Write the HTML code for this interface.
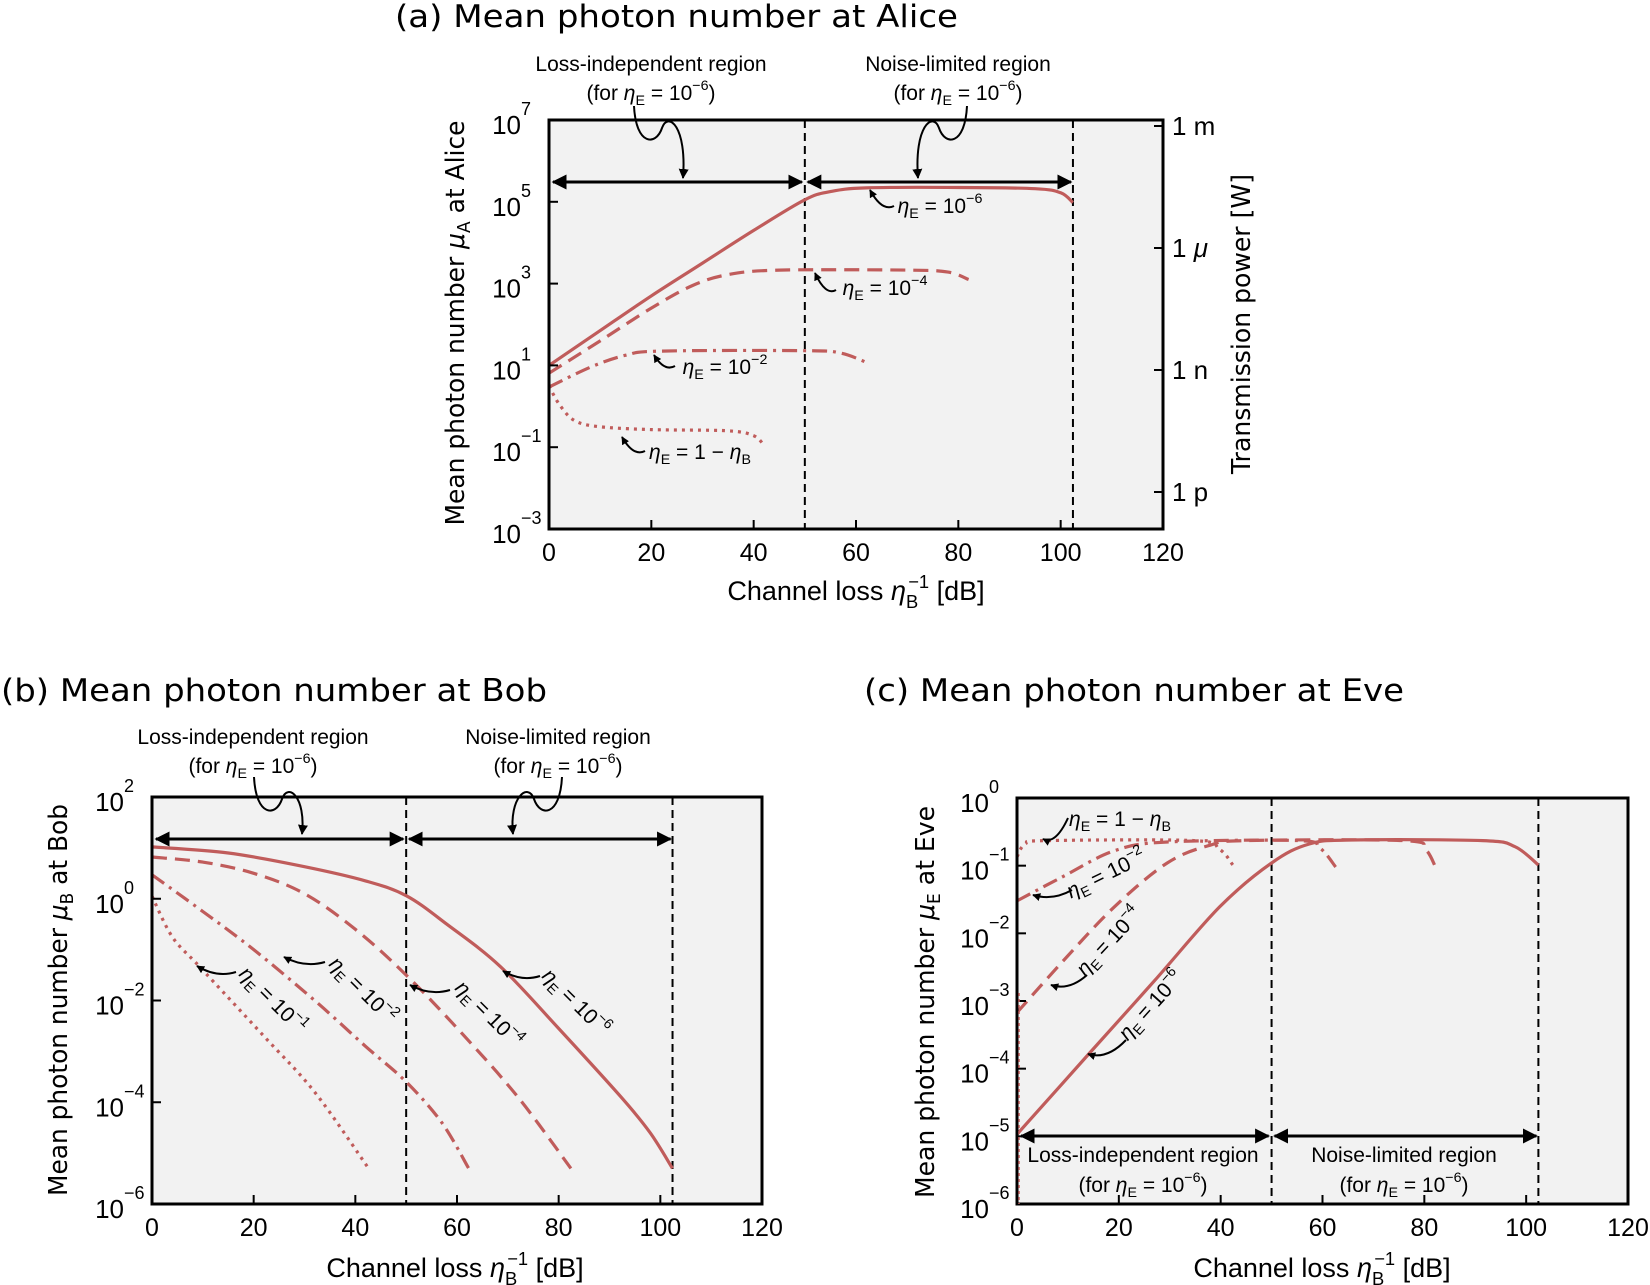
<!DOCTYPE html>
<html><head><meta charset="utf-8"><style>
html,body{margin:0;padding:0;background:#fff;}
svg{display:block;font-family:"Liberation Sans",sans-serif;}
.t{font-family:"DejaVu Sans","Liberation Sans",sans-serif;}
</style></head><body>
<svg id="s" width="1650" height="1285" viewBox="0 0 1650 1285" xmlns="http://www.w3.org/2000/svg">
<defs>
<marker id="ah" viewBox="0 0 10 10" refX="9" refY="5" markerWidth="5" markerHeight="5" orient="auto-start-reverse"><path d="M0,0 L10,5 L0,10 z" fill="#000"/></marker>
<marker id="bh" viewBox="0 0 10 10" refX="9" refY="5" markerWidth="4" markerHeight="4" orient="auto-start-reverse"><path d="M0,0 L10,5 L0,10 z" fill="#000"/></marker>
</defs>
<g id="g"></g>
</svg>
<script>
var out='';
var RED='#c05c5b';
function cr(pts){var d='M'+pts[0][0].toFixed(1)+','+pts[0][1].toFixed(1);
for(var i=0;i<pts.length-1;i++){var p0=pts[i-1]||pts[i],p1=pts[i],p2=pts[i+1],p3=pts[i+2]||p2;
var c1=[p1[0]+(p2[0]-p0[0])/6,p1[1]+(p2[1]-p0[1])/6],c2=[p2[0]-(p3[0]-p1[0])/6,p2[1]-(p3[1]-p1[1])/6];
d+=' C'+c1[0].toFixed(1)+','+c1[1].toFixed(1)+' '+c2[0].toFixed(1)+','+c2[1].toFixed(1)+' '+p2[0].toFixed(1)+','+p2[1].toFixed(1);}return d;}
function eta(sub){return '<tspan font-style="italic">η</tspan><tspan font-size="68%" dy="5">'+sub+'</tspan>';}
function lab(exp){return eta('E')+'<tspan dy="-5"> = 10</tspan><tspan font-size="68%" dy="-10">'+exp+'</tspan>';}
function labB(){return eta('E')+'<tspan dy="-5"> = 1 − </tspan>'+eta('B');}
function panel(c){
 var X=function(v){return c.x0+(c.x1-c.x0)*v/120;};
 var Y=function(v){return c.yt+(c.yb-c.yt)*(c.ymax-v)/(c.ymax-c.ymin);};
 c.X=X;c.Y=Y;
 out+='<rect x="'+c.x0+'" y="'+c.yt+'" width="'+(c.x1-c.x0)+'" height="'+(c.yb-c.yt)+'" fill="#f2f2f2"/>';
 [50,102.4].forEach(function(v){out+='<line x1="'+X(v)+'" y1="'+c.yt+'" x2="'+X(v)+'" y2="'+c.yb+'" stroke="#000" stroke-width="2" stroke-dasharray="8,5"/>';});
 c.curves.forEach(function(cv){var pts=cv.p.map(function(q){return [X(q[0]),Y(q[1])];});
  out+='<path d="'+cr(pts)+'" fill="none" stroke="'+RED+'" stroke-width="3.2" stroke-dasharray="'+cv.d+'"/>';});
 out+='<rect x="'+c.x0+'" y="'+c.yt+'" width="'+(c.x1-c.x0)+'" height="'+(c.yb-c.yt)+'" fill="none" stroke="#000" stroke-width="3"/>';
 for(var v=0;v<=120;v+=20){var x=X(v);
  if(v>0&&v<120)out+='<line x1="'+x+'" y1="'+c.yb+'" x2="'+x+'" y2="'+(c.yb-9)+'" stroke="#000" stroke-width="2"/>';
  out+='<text x="'+x+'" y="'+(c.yb+32)+'" font-size="25" text-anchor="middle">'+v+'</text>';}
 c.yl.forEach(function(e){var y=Y(e);
  if(e<c.ymax&&e>c.ymin)out+='<line x1="'+c.x0+'" y1="'+y+'" x2="'+(c.x0+9)+'" y2="'+y+'" stroke="#000" stroke-width="2"/>';
  var s=(e<0?'−':'')+Math.abs(e);
  out+='<text x="'+(c.x0-28)+'" y="'+(y+14)+'" font-size="26" text-anchor="end">10</text>';
  out+='<text x="'+(c.x0-28)+'" y="'+(y-5)+'" font-size="18">'+s+'</text>';});
}
var A={x0:549,x1:1163,yt:120,yb:529,ymax:7,ymin:-3,yl:[7,5,3,1,-1,-3],curves:[
 {d:'none',p:[[0,1.0],[10,1.85],[20,2.7],[30,3.5],[40,4.3],[50,5.05],[55,5.25],[62,5.34],[80,5.35],[95,5.32],[100,5.22],[102.4,4.98]]},
 {d:'15,8',p:[[0,0.81],[10,1.6],[20,2.4],[28,2.95],[35,3.22],[45,3.33],[70,3.33],[78,3.28],[82,3.1]]},
 {d:'15,6,3,6',p:[[0,0.47],[8,0.95],[15,1.25],[22,1.35],[50,1.36],[57,1.3],[62.5,1.05]]},
 {d:'3,5',p:[[0,0.5],[2,0.05],[5,-0.35],[10,-0.5],[20,-0.57],[35,-0.6],[40,-0.72],[42,-0.95]]}]};
panel(A);
[[126,'1 m'],[248,'1 <tspan font-style="italic">μ</tspan>'],[370,'1 n'],[492,'1 p']].forEach(function(r){
 out+='<line x1="1163" y1="'+r[0]+'" x2="1154" y2="'+r[0]+'" stroke="#000" stroke-width="2"/>';
 out+='<text x="1172" y="'+(r[0]+9)+'" font-size="26">'+r[1]+'</text>';});
var B={x0:152,x1:762,yt:797,yb:1204,ymax:2,ymin:-6,yl:[2,0,-2,-4,-6],curves:[
 {d:'none',p:[[0,1.02],[15,0.9],[30,0.63],[42,0.35],[50,0.06],[58,-0.5],[68.5,-1.33],[80,-2.55],[92.3,-3.9],[98,-4.6],[102.4,-5.3]]},
 {d:'15,8',p:[[0,0.82],[10,0.72],[20,0.5],[30,0.1],[40,-0.6],[50,-1.5],[61,-2.65],[72,-3.9],[82.4,-5.3]]},
 {d:'15,6,3,6',p:[[0,0.47],[10,-0.25],[20,-1.0],[32,-2.0],[42,-2.9],[50,-3.6],[57,-4.4],[62.3,-5.3]]},
 {d:'3,5',p:[[0,0.05],[4,-0.75],[9.5,-1.35],[22,-2.7],[32,-3.8],[42.6,-5.3]]}]};
panel(B);
var C={x0:1017,x1:1628,yt:798,yb:1204,ymax:0,ymin:-6,yl:[0,-1,-2,-3,-4,-5,-6],curves:[
 {d:'none',p:[[0,-4.97],[14,-3.79],[27,-2.7],[39.8,-1.61],[50,-0.96],[57.4,-0.68],[65.7,-0.62],[91.5,-0.63],[97.8,-0.72],[102.4,-0.99]]},
 {d:'15,8',p:[[0,-3.17],[8.8,-2.43],[19.1,-1.61],[29.5,-0.96],[37.8,-0.70],[45,-0.63],[76,-0.63],[80.2,-0.76],[82.2,-1.02]]},
 {d:'15,6,3,6',p:[[0,-1.52],[8.8,-1.17],[19.1,-0.78],[29.5,-0.65],[55.3,-0.63],[59.5,-0.74],[62.6,-1.02]]},
 {d:'3,5',p:[[0,-0.87],[1.6,-0.68],[5.7,-0.63],[34.7,-0.63],[39.8,-0.76],[42.4,-0.99]]}]};
panel(C);
out+='<line x1="1019" y1="993" x2="1019" y2="1204" stroke="'+RED+'" stroke-width="1.5" stroke-dasharray="3,3"/>';
function dbl(c,y){var a=c.X(0)+2,m=c.X(50),b=c.X(102.4);
 out+='<line x1="'+(a+2)+'" y1="'+y+'" x2="'+(m-3)+'" y2="'+y+'" stroke="#000" stroke-width="3" marker-start="url(#ah)" marker-end="url(#ah)"/>';
 out+='<line x1="'+(m+3)+'" y1="'+y+'" x2="'+(b-2)+'" y2="'+y+'" stroke="#000" stroke-width="3" marker-start="url(#ah)" marker-end="url(#ah)"/>';}
dbl(A,182);dbl(B,839);dbl(C,1136);
function regText(cx,y,t){out+='<text x="'+cx+'" y="'+y+'" font-size="21" text-anchor="middle">'+t+'</text>';}
function forT(cx,y){out+='<text x="'+cx+'" y="'+y+'" font-size="21" text-anchor="middle">(for '+lab('−6')+'<tspan dy="10">)</tspan></text>';}
regText(651,71,'Loss-independent region');forT(651,100);
regText(958,71,'Noise-limited region');forT(958,100);
regText(253,744,'Loss-independent region');forT(253,773);
regText(558,744,'Noise-limited region');forT(558,773);
regText(1143,1162,'Loss-independent region');forT(1143,1192);
regText(1404,1162,'Noise-limited region');forT(1404,1192);
function squig(x1,y1,x2,y2,dir){var s=dir;
 out+='<path d="M'+x1+','+y1+' C'+(x1+2*s)+','+(y1+40)+' '+(x1+22*s)+','+(y1+40)+' '+(x1+28*s)+','+(y1+22)+' C'+(x1+34*s)+','+(y1+5)+' '+(x2+4*s)+','+(y1+20)+' '+x2+','+(y2-2)+'" fill="none" stroke="#000" stroke-width="2" marker-end="url(#ah)"/>';}
squig(634,106,683,180,1);squig(967,106,918,180,-1);
squig(254,777,302,836,1);squig(562,777,513,836,-1);
function cl(x,y,rot,html,ax,ay,sx,sy){
 out+='<text x="'+x+'" y="'+y+'" font-size="21" text-anchor="middle"'+(rot?' transform="rotate('+rot+' '+x+' '+y+')"':'')+'>'+html+'</text>';
 out+='<path d="M'+sx+','+sy+' Q'+((sx+ax)/2)+','+(Math.max(sy,ay)+6)+' '+ax+','+ay+'" fill="none" stroke="#000" stroke-width="2" marker-end="url(#bh)"/>';}
cl(940,213,0,lab('−6'),870,190,894,206);
cl(885,295,0,lab('−4'),815,273,836,290);
cl(725,374,0,lab('−2'),654,355,675,366);
cl(700,459,0,labB(),622,437,645,451);
cl(268,1005,45,lab('−1'),197,966,236,972);
cl(358,995,45,lab('−2'),284,957,325,962);
cl(484,1019,45,lab('−4'),410,985,450,990);
cl(571,1007,45,lab('−6'),503,971,540,976);
cl(1120,826,0,labB(),1043,839,1068,818);
cl(1109,880,-26,lab('−2'),1033,895,1072,890);
cl(1114,946,-47,lab('−4'),1051,985,1087,975);
cl(1156,1010,-48,lab('−6'),1088,1054,1126,1040);
function yl(x,y,len,html){out+='<text class="t" x="'+x+'" y="'+y+'" font-size="26" text-anchor="middle" transform="rotate(-90 '+x+' '+y+')" textLength="'+len+'" lengthAdjust="spacingAndGlyphs">'+html+'</text>';}
function mu(s){return '<tspan font-style="italic">μ</tspan><tspan font-size="68%" dy="6">'+s+'</tspan><tspan dy="-6"> </tspan>';}
yl(464,323,405,'Mean photon number '+mu('A')+'at Alice');
yl(1250,324,300,'Transmission power [W]');
yl(67,1000,392,'Mean photon number '+mu('B')+'at Bob');
yl(934,1002,392,'Mean photon number '+mu('E')+'at Eve');
function xl(x,y){out+='<text x="'+x+'" y="'+y+'" font-size="27" text-anchor="middle">Channel loss <tspan font-style="italic">η</tspan><tspan font-size="68%" dy="8">B</tspan><tspan font-size="68%" dx="-10" dy="-20">−1</tspan><tspan dy="12"> [dB]</tspan></text>';}
xl(856,600);xl(455,1277);xl(1322,1277);
function ti(x,y,len,t){out+='<text class="t" x="'+x+'" y="'+y+'" font-size="31" textLength="'+len+'" lengthAdjust="spacingAndGlyphs">'+t+'</text>';}
ti(395,27,563,'(a) Mean photon number at Alice');
ti(1,701,546,'(b) Mean photon number at Bob');
ti(864,701,540,'(c) Mean photon number at Eve');
document.getElementById('g').innerHTML=out;
</script>
</body></html>
